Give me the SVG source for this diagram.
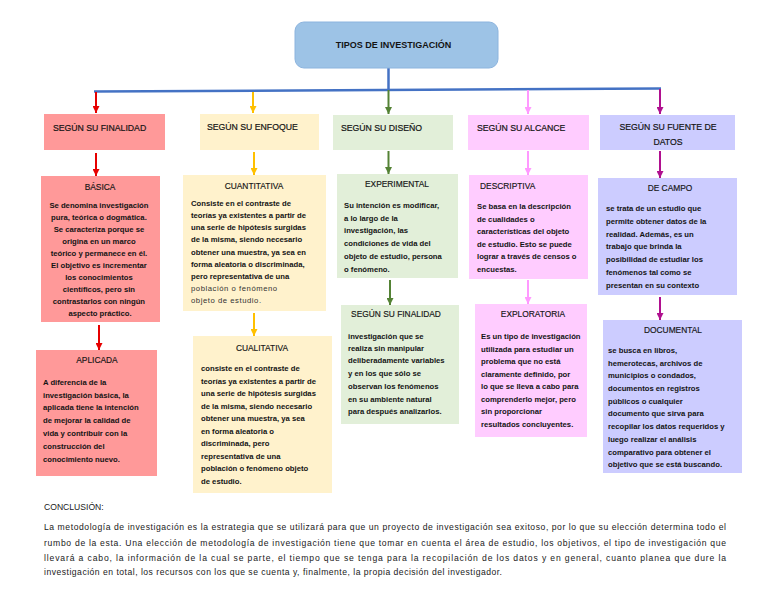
<svg xmlns="http://www.w3.org/2000/svg" width="768" height="594" viewBox="0 0 768 594">
<defs>
<style>
text{font-family:"Liberation Sans",Arial,sans-serif;fill:#141414}
.ttl{font-size:9px;font-weight:bold;text-anchor:middle}
.hd{font-size:8.7px;stroke:#141414;stroke-width:0.2}
.st{font-size:8.4px;stroke:#141414;stroke-width:0.15}
.c{text-anchor:middle}
.b{font-size:7.7px;font-weight:bold}
.lt{font-weight:normal;letter-spacing:0.55px;fill:#333}
.cc{font-size:8.6px;fill:#1a1a1a}
.ln{fill:none;stroke-width:2}
</style>
<marker id="mr" viewBox="0 0 8 8" refX="8" refY="4" markerWidth="7" markerHeight="7" orient="auto" markerUnits="userSpaceOnUse"><path d="M0,0L8,4L0,8z" fill="#E60000"/></marker>
<marker id="my" viewBox="0 0 8 8" refX="8" refY="4" markerWidth="7" markerHeight="7" orient="auto" markerUnits="userSpaceOnUse"><path d="M0,0L8,4L0,8z" fill="#FFC000"/></marker>
<marker id="mg" viewBox="0 0 8 8" refX="8" refY="4" markerWidth="7" markerHeight="7" orient="auto" markerUnits="userSpaceOnUse"><path d="M0,0L8,4L0,8z" fill="#548235"/></marker>
<marker id="mp" viewBox="0 0 8 8" refX="8" refY="4" markerWidth="7" markerHeight="7" orient="auto" markerUnits="userSpaceOnUse"><path d="M0,0L8,4L0,8z" fill="#FF99FF"/></marker>
<marker id="mm" viewBox="0 0 8 8" refX="8" refY="4" markerWidth="7" markerHeight="7" orient="auto" markerUnits="userSpaceOnUse"><path d="M0,0L8,4L0,8z" fill="#B0108F"/></marker>
</defs>
<rect width="768" height="594" fill="#ffffff"/>

<g id="connectors">
<line x1="388.5" y1="68" x2="388.5" y2="90" stroke="#4472C4" stroke-width="2.5"/>
<line x1="94" y1="91.5" x2="661" y2="88.5" stroke="#4472C4" stroke-width="2.5"/>
<line class="ln" stroke="#E60000" x1="96" y1="92" x2="96" y2="113" marker-end="url(#mr)"/>
<line class="ln" stroke="#FFC000" x1="253" y1="92" x2="253" y2="113" marker-end="url(#my)"/>
<line class="ln" stroke="#548235" x1="388.5" y1="90" x2="388.5" y2="114" marker-end="url(#mg)"/>
<line class="ln" stroke="#FF99FF" x1="528" y1="90" x2="528" y2="114" marker-end="url(#mp)"/>
<line class="ln" stroke="#B0108F" x1="660" y1="89" x2="660" y2="114" marker-end="url(#mm)"/>
<line class="ln" stroke="#E60000" x1="96" y1="153" x2="96" y2="176" marker-end="url(#mr)"/>
<line class="ln" stroke="#FFC000" x1="254" y1="152" x2="254" y2="175" marker-end="url(#my)"/>
<line class="ln" stroke="#548235" x1="388.5" y1="151" x2="388.5" y2="174" marker-end="url(#mg)"/>
<line class="ln" stroke="#FF99FF" x1="528" y1="151" x2="528" y2="175" marker-end="url(#mp)"/>
<line class="ln" stroke="#B0108F" x1="660" y1="151" x2="660" y2="178" marker-end="url(#mm)"/>
<line class="ln" stroke="#E60000" x1="99" y1="325" x2="99" y2="350" marker-end="url(#mr)"/>
<line class="ln" stroke="#FFC000" x1="254" y1="313" x2="254" y2="336" marker-end="url(#my)"/>
<line class="ln" stroke="#548235" x1="390" y1="280" x2="390" y2="305" marker-end="url(#mg)"/>
<line class="ln" stroke="#FF99FF" x1="528" y1="280" x2="528" y2="304" marker-end="url(#mp)"/>
<line class="ln" stroke="#B0108F" x1="660" y1="297" x2="660" y2="320" marker-end="url(#mm)"/>
</g>

<g id="tipos">
<rect x="295" y="22" width="203" height="46" rx="9" fill="#9DC3E6" stroke="#8CB4DE" stroke-width="1"/>
<text class="ttl" x="393.5" y="48">TIPOS DE INVESTIGACIÓN</text>
</g>

<g id="finalidad">
<rect x="44" y="114" width="121" height="36" fill="#FF9999"/>
<text class="hd" x="53" y="131">SEGÚN SU FINALIDAD</text>
</g>
<g id="enfoque">
<rect x="200" y="114" width="119" height="36" fill="#FFF2CC"/>
<text class="hd" x="207" y="130">SEGÚN SU ENFOQUE</text>
</g>
<g id="diseno">
<rect x="333" y="115" width="120" height="35" fill="#E2EFD9"/>
<text class="hd" x="341" y="131">SEGÚN SU DISEÑO</text>
</g>
<g id="alcance">
<rect x="468" y="115" width="121" height="35" fill="#FFCCFF"/>
<text class="hd" x="477" y="131">SEGÚN SU ALCANCE</text>
</g>
<g id="fuente">
<rect x="600" y="115" width="135" height="35" fill="#CCCCFF"/>
<text class="hd c" x="668" y="130">SEGÚN SU FUENTE DE</text>
<text class="hd c" x="668" y="145">DATOS</text>
</g>

<g id="basica">
<rect x="41" y="176" width="119" height="146" fill="#FF9999"/>
<text class="st c" x="100" y="190">BÁSICA</text>
<text class="b c">
<tspan x="100" y="208">Se denomina investigación</tspan>
<tspan x="100" y="220">pura, teórica o dogmática.</tspan>
<tspan x="100" y="232">Se caracteriza porque se</tspan>
<tspan x="100" y="244">origina en un marco</tspan>
<tspan x="100" y="256">teórico y permanece en él.</tspan>
<tspan x="100" y="268">El objetivo es incrementar</tspan>
<tspan x="100" y="280">los conocimientos</tspan>
<tspan x="100" y="292">científicos, pero sin</tspan>
<tspan x="100" y="304">contrastarlos con ningún</tspan>
<tspan x="100" y="316">aspecto práctico.</tspan>
</text>
</g>

<g id="aplicada">
<rect x="36" y="350" width="121" height="126" fill="#FF9999"/>
<text class="st c" x="97" y="363">APLICADA</text>
<text class="b">
<tspan x="43" y="385">A diferencia de la</tspan>
<tspan x="43" y="397.5">investigación básica, la</tspan>
<tspan x="43" y="410">aplicada tiene la intención</tspan>
<tspan x="43" y="423">de mejorar la calidad de</tspan>
<tspan x="43" y="436">vida y contribuir con la</tspan>
<tspan x="43" y="449">construcción del</tspan>
<tspan x="43" y="462">conocimiento nuevo.</tspan>
</text>
</g>

<g id="cuantitativa">
<rect x="183" y="175" width="143" height="136" fill="#FFF2CC"/>
<text class="st c" x="254" y="189">CUANTITATIVA</text>
<text class="b">
<tspan x="191" y="206">Consiste en el contraste de</tspan>
<tspan x="191" y="218">teorías ya existentes a partir de</tspan>
<tspan x="191" y="230">una serie de hipótesis surgidas</tspan>
<tspan x="191" y="242">de la misma, siendo necesario</tspan>
<tspan x="191" y="254.5">obtener una muestra, ya sea en</tspan>
<tspan x="191" y="266.5">forma aleatoria o discriminada,</tspan>
<tspan x="191" y="278.5">pero representativa de una</tspan>
<tspan class="lt" x="191" y="291">población o fenómeno</tspan>
<tspan class="lt" x="191" y="303">objeto de estudio.</tspan>
</text>
</g>

<g id="cualitativa">
<rect x="193" y="336" width="139" height="157" fill="#FFF2CC"/>
<text class="st c" x="262" y="351">CUALITATIVA</text>
<text class="b">
<tspan x="201" y="371">consiste en el contraste de</tspan>
<tspan x="201" y="383.5">teorías ya existentes a partir de</tspan>
<tspan x="201" y="396">una serie de hipótesis surgidas</tspan>
<tspan x="201" y="408.5">de la misma, siendo necesario</tspan>
<tspan x="201" y="421">obtener una muestra, ya sea</tspan>
<tspan x="201" y="433.5">en forma aleatoria o</tspan>
<tspan x="201" y="446">discriminada, pero</tspan>
<tspan x="201" y="458.5">representativa de una</tspan>
<tspan x="201" y="471">población o fenómeno objeto</tspan>
<tspan x="201" y="483.5">de estudio.</tspan>
</text>
</g>

<g id="experimental">
<rect x="337" y="174" width="121" height="104" fill="#E2EFD9"/>
<text class="st c" x="397" y="187">EXPERIMENTAL</text>
<text class="b">
<tspan x="344" y="208">Su intención es modificar,</tspan>
<tspan x="344" y="220.5">a lo largo de la</tspan>
<tspan x="344" y="233">investigación, las</tspan>
<tspan x="344" y="246">condiciones de vida del</tspan>
<tspan x="344" y="259">objeto de estudio, persona</tspan>
<tspan x="344" y="272">o fenómeno.</tspan>
</text>
</g>

<g id="finalidad2">
<rect x="341" y="305" width="118" height="119" fill="#E2EFD9"/>
<text class="st c" x="396" y="317">SEGÚN SU FINALIDAD</text>
<text class="b">
<tspan x="348" y="339">investigación que se</tspan>
<tspan x="348" y="351">realiza sin manipular</tspan>
<tspan x="348" y="363">deliberadamente variables</tspan>
<tspan x="348" y="376">y en los que sólo se</tspan>
<tspan x="348" y="389">observan los fenómenos</tspan>
<tspan x="348" y="402">en su ambiente natural</tspan>
<tspan x="348" y="414">para después analizarlos.</tspan>
</text>
</g>

<g id="descriptiva">
<rect x="469" y="175" width="119" height="104" fill="#FFCCFF"/>
<text class="st" x="480" y="189">DESCRIPTIVA</text>
<text class="b">
<tspan x="477" y="209">Se basa en la descripción</tspan>
<tspan x="477" y="221.5">de cualidades o</tspan>
<tspan x="477" y="234">características del objeto</tspan>
<tspan x="477" y="246.5">de estudio. Esto se puede</tspan>
<tspan x="477" y="259">lograr a través de censos o</tspan>
<tspan x="477" y="271.5">encuestas.</tspan>
</text>
</g>

<g id="exploratoria">
<rect x="475" y="304" width="112" height="133" fill="#FFCCFF"/>
<text class="st c" x="533" y="317">EXPLORATORIA</text>
<text class="b">
<tspan x="481" y="339">Es un tipo de investigación</tspan>
<tspan x="481" y="351.5">utilizada para estudiar un</tspan>
<tspan x="481" y="364">problema que no está</tspan>
<tspan x="481" y="376.5">claramente definido, por</tspan>
<tspan x="481" y="389">lo que se lleva a cabo para</tspan>
<tspan x="481" y="401.5">comprenderlo mejor, pero</tspan>
<tspan x="481" y="414">sin proporcionar</tspan>
<tspan x="481" y="427">resultados concluyentes.</tspan>
</text>
</g>

<g id="campo">
<rect x="598" y="178" width="139" height="117" fill="#CCCCFF"/>
<text class="st c" x="670" y="191">DE CAMPO</text>
<text class="b">
<tspan x="606" y="211">se trata de un estudio que</tspan>
<tspan x="606" y="224">permite obtener datos de la</tspan>
<tspan x="606" y="236.5">realidad. Además, es un</tspan>
<tspan x="606" y="249">trabajo que brinda la</tspan>
<tspan x="606" y="262">posibilidad de estudiar los</tspan>
<tspan x="606" y="275">fenómenos tal como se</tspan>
<tspan x="606" y="288">presentan en su contexto</tspan>
</text>
</g>

<g id="documental">
<rect x="603" y="320" width="139" height="153" fill="#CCCCFF"/>
<text class="st c" x="673" y="333">DOCUMENTAL</text>
<text class="b">
<tspan x="608" y="353">se busca en libros,</tspan>
<tspan x="608" y="365.7">hemerotecas, archivos de</tspan>
<tspan x="608" y="378.4">municipios o condados,</tspan>
<tspan x="608" y="391">documentos en registros</tspan>
<tspan x="608" y="403.7">públicos o cualquier</tspan>
<tspan x="608" y="416.4">documento que sirva para</tspan>
<tspan x="608" y="429">recopilar los datos requeridos y</tspan>
<tspan x="608" y="441.8">luego realizar el análisis</tspan>
<tspan x="608" y="454.5">comparativo para obtener el</tspan>
<tspan x="608" y="467">objetivo que se está buscando.</tspan>
</text>
</g>

<g id="conclusion">
<text class="cc" x="44" y="510">CONCLUSIÓN:</text>
<text class="cc" x="44" y="530" textLength="682" lengthAdjust="spacing">La metodología de investigación es la estrategia que se utilizará para que un proyecto de investigación sea exitoso, por lo que su elección determina todo el</text>
<text class="cc" x="44" y="545.5" textLength="682" lengthAdjust="spacing">rumbo de la esta. Una elección de metodología de investigación tiene que tomar en cuenta el área de estudio, los objetivos, el tipo de investigación que</text>
<text class="cc" x="44" y="560.5" textLength="682" lengthAdjust="spacing">llevará a cabo, la información de la cual se parte, el tiempo que se tenga para la recopilación de los datos y en general, cuanto planea que dure la</text>
<text class="cc" x="44" y="575" textLength="458" lengthAdjust="spacing">investigación en total, los recursos con los que se cuenta y, finalmente, la propia decisión del investigador.</text>
</g>
</svg>
